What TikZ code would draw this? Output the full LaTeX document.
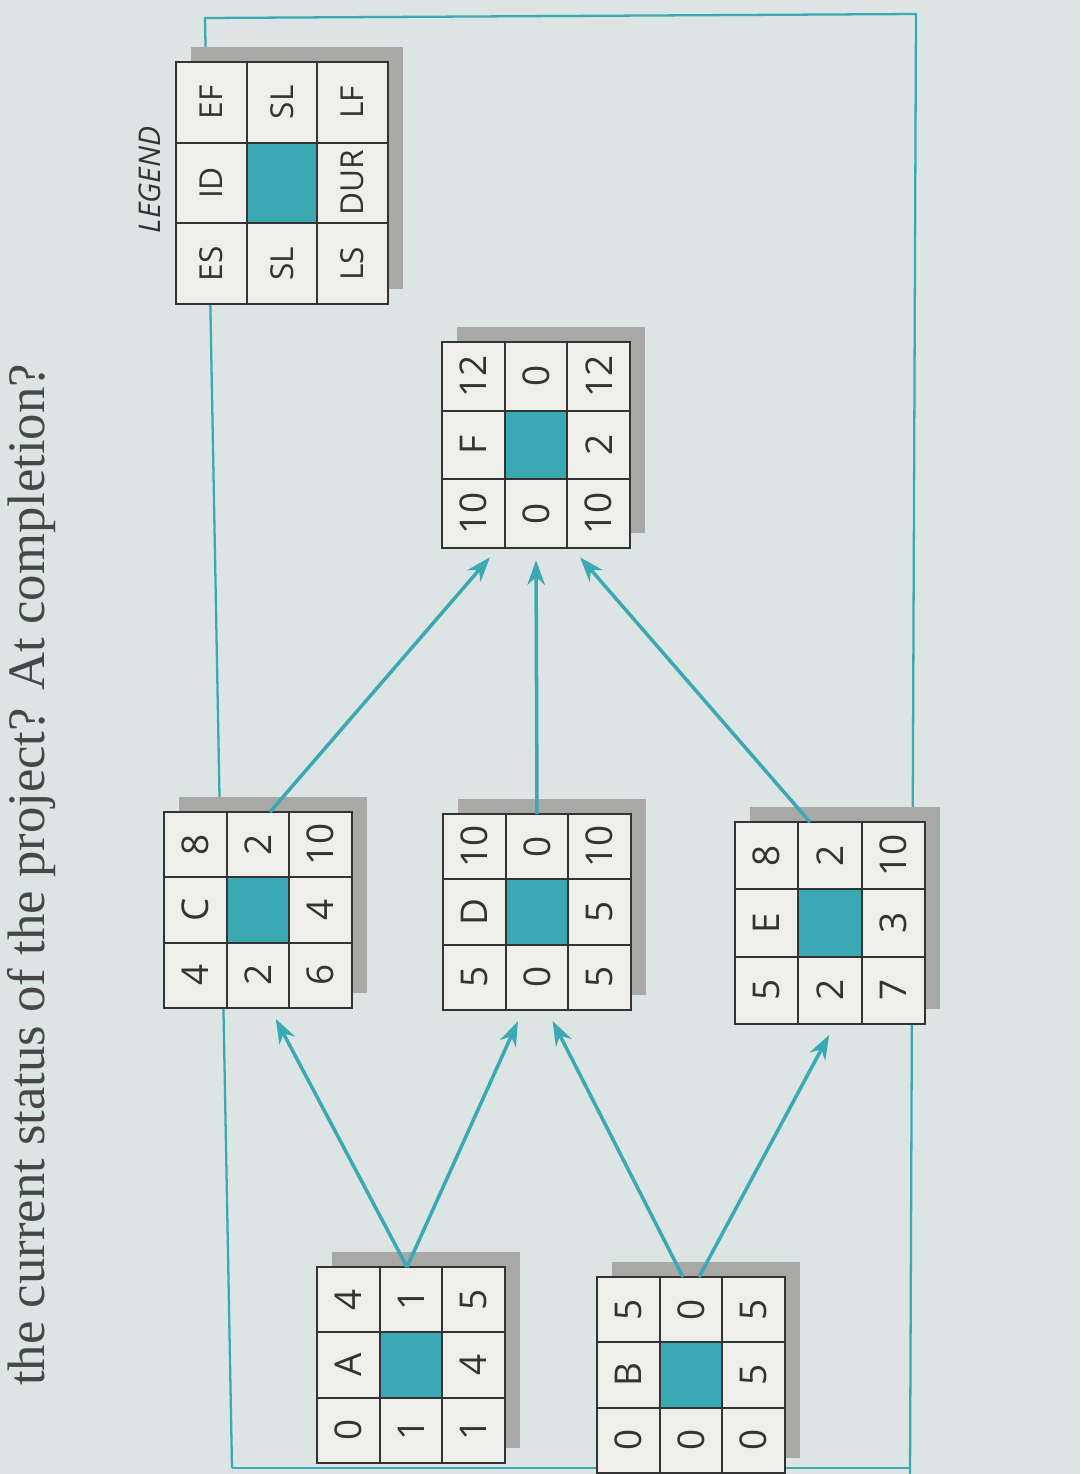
\documentclass[tikz,border=0pt]{standalone}
\usepackage{fontspec}
\setmainfont{Liberation Serif}
\newfontfamily\boxfont{Open Sans}
\usetikzlibrary{calc,arrows.meta}
\definecolor{bg}{HTML}{DDE5E4}
\definecolor{teal1}{HTML}{3AA9B4}
\definecolor{cellc}{HTML}{EEEEEB}
\definecolor{shad}{HTML}{A8A8A6}
\definecolor{ink}{HTML}{333333}
\tikzset{
  boxnode/.style={anchor=north west, fill=cellc, inner sep=0pt, outer sep=0pt, draw=none},
  gridline/.style={draw=ink, line width=1.1pt},
  celltext/.style={rotate=90, text=ink, font=\boxfont\fontsize{21}{23}\selectfont},
  legtext/.style={rotate=90, text=ink, font=\boxfont\fontsize{18}{20}\selectfont},
  arr/.style={draw=teal1, line width=2pt, -{Stealth[length=14pt,width=10pt]}, shorten >=7pt},
  frame/.style={draw=teal1, line width=1.3pt},
}
\newcommand\pbox[9]{%
  \fill[shad] (#2+15,#3-15) rectangle ++(#4,#5);
  \node[boxnode, minimum width=#4*0.02cm, minimum height=#5*0.02cm] (#1) at (#2,#3) {};
  \fill[teal1] (#2+#4/3,#3+#5/3) rectangle ++(#4/3,#5/3);
  \foreach \k in {1,2} {\draw[gridline] (#2+\k*#4/3,#3) -- ++(0,#5);
                        \draw[gridline] (#2,#3+\k*#5/3) -- ++(#4,0);}
  \draw[gridline] (#2,#3) rectangle ++(#4,#5);
  \foreach \t [count=\i] in {#6} \node[#9] at (#2+#4/6, #3+#5-\i*#5/3+#5/6) {\t};
  \foreach \t [count=\i] in {#7} \node[#9] at (#2+#4/2, #3+#5-\i*#5/3+#5/6) {\t};
  \foreach \t [count=\i] in {#8} \node[#9] at (#2+5*#4/6, #3+#5-\i*#5/3+#5/6) {\t};
}
\begin{document}
\begin{tikzpicture}[x=0.02cm,y=-0.02cm]
\fill[bg] (0,0) rectangle (1080,1474);
\useasboundingbox (0,0) rectangle (1080,1474);
\clip (0,0) rectangle (1080,1474);
% frame
\draw[frame] (232,1468) -- (205,18) -- (916,14) -- (910,1480);
\draw[frame] (232,1468) -- (910,1468);
% caption text
\node[rotate=90, anchor=west, font=\fontsize{30}{32}\selectfont, text=ink!90] (cap) at (32,1392) {the current status of the project? At completion?};
% legend
\node[rotate=90, font=\boxfont\itshape\fontsize{17}{19}\selectfont, text=ink] (leg) at (150,180) {LEGEND};
\pbox{L}{176}{62}{212}{242}{ES,ID,EF}{SL,,SL}{LS,DUR,LF}{legtext}
% activity boxes
\pbox{A}{317}{1267}{188}{196}{0,A,4}{1,,1}{1,4,5}{celltext}
\pbox{B}{597}{1277}{188}{196}{0,B,5}{0,,0}{0,5,5}{celltext}
\pbox{C}{164}{812}{188}{196}{4,C,8}{2,,2}{6,4,10}{celltext}
\pbox{D}{443}{814}{188}{196}{5,D,10}{0,,0}{5,5,10}{celltext}
\pbox{E}{735}{822}{190}{202}{5,E,8}{2,,2}{7,3,10}{celltext}
\pbox{F}{442}{342}{188}{206}{10,F,12}{0,,0}{10,2,12}{celltext}
% arrows
\draw[arr] ($(A.north)+(-4,0)$) -- ($(C.south)+(12,0)$);
\draw[arr] ($(A.north)+(-4,0)$) -- ($(D.south)+(-14,0)$);
\draw[arr] ($(B.north)+(-8,0)$) -- ($(D.south)+(10,0)$);
\draw[arr] ($(B.north)+(8,0)$) -- ($(E.south)+(5,0)$);
\draw[arr] ($(C.north)+(12,0)$) -- ($(F.south)+(-38,0)$);
\draw[arr] (D.north) -- ($(F.south)+(0,0)$);
\draw[arr] ($(E.north)+(-20,0)$) -- ($(F.south)+(36,0)$);
\end{tikzpicture}
\end{document}
